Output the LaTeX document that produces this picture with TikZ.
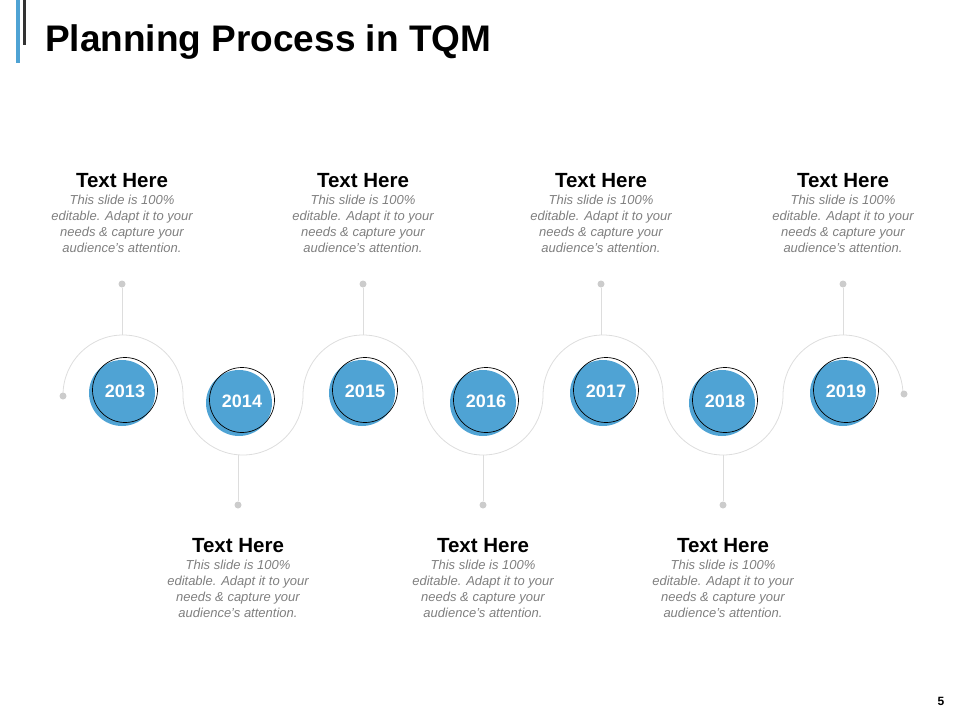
\documentclass[tikz,border=0pt]{standalone}
\usepackage{fontspec}
\setmainfont{Liberation Sans}
\usetikzlibrary{positioning}
\definecolor{tqmblue}{HTML}{4FA3D4}
\definecolor{ringgray}{HTML}{DDDDDD}
\definecolor{dotgray}{HTML}{CCCCCC}
\definecolor{bodygray}{HTML}{7F7F7F}
\tikzset{
  head/.style={font=\bfseries\fontsize{20.5}{24}\selectfont, inner sep=0pt},
  body/.style={font=\itshape\fontsize{13}{16}\selectfont, text=bodygray, align=center, inner sep=0pt},
  year/.style={circle, fill=tqmblue, minimum size=66pt, inner sep=0pt},
  stem/.style={ringgray, line width=0.8pt},
  enddot/.style={circle, fill=dotgray, minimum size=7pt, inner sep=0pt}
}
\begin{document}
\begin{tikzpicture}[x=1pt,y=-1pt]
    \useasboundingbox (0,0) rectangle (960,720);
    % header bars and title
    \fill[tqmblue] (16,0) rectangle (20,63);
    \fill[black!80] (23,0) rectangle (26,45);
    \node[anchor=west, font=\bfseries\fontsize{37}{40}\selectfont, inner sep=0pt] (title) at (45,42) {Planning Process in TQM};
    \node[font=\bfseries\fontsize{12}{14}\selectfont] (page) at (941,701) {5};

    % snake of rings
    \draw[ringgray, line width=0.8pt] (63,395)
        arc[start angle=180, end angle=360, radius=60]
        arc[start angle=180, end angle=0, radius=60]
        arc[start angle=180, end angle=360, radius=60]
        arc[start angle=180, end angle=0, radius=60]
        arc[start angle=180, end angle=360, radius=60]
        arc[start angle=180, end angle=0, radius=60]
        arc[start angle=180, end angle=360, radius=60];
    \node[enddot] (leftend) at (63,396) {};
    \node[enddot] (rightend) at (904,394) {};

    % years
    \foreach \yr/\cx/\cy in {2013/123/391, 2014/240/401, 2015/363/391, 2016/484/401, 2017/604/391, 2018/723/401, 2019/844/391} {
        \node[year] (y\yr) at (\cx-1,\cy+2) {};
        \draw[black, line width=0.7pt] (\cx+2,\cy-1) circle (32.5);
        \node[text=white, font=\bfseries\fontsize{18}{20}\selectfont] (t\yr) at (\cx+2,\cy) {\yr};
    }

    % upper captions
    \foreach \nm/\cx in {a/122, b/363, c/601, d/843} {
        \node[head] (h\nm) at (\cx,181) {Text Here};
        \node[body, below=7pt of h\nm] (b\nm) {This slide is 100\%\\editable. Adapt it to your\\needs \& capture your\\audience's attention.};
        \node[enddot] (d\nm) at (\cx,284) {};
        \draw[stem] (d\nm) -- (\cx,335);
    }

    % lower captions
    \foreach \nm/\cx in {e/238, f/483, g/723} {
        \node[head] (h\nm) at (\cx,546) {Text Here};
        \node[body, below=7pt of h\nm] (b\nm) {This slide is 100\%\\editable. Adapt it to your\\needs \& capture your\\audience's attention.};
        \node[enddot] (d\nm) at (\cx,505) {};
        \draw[stem] (d\nm) -- (\cx,455);
    }
\end{tikzpicture}
\end{document}
